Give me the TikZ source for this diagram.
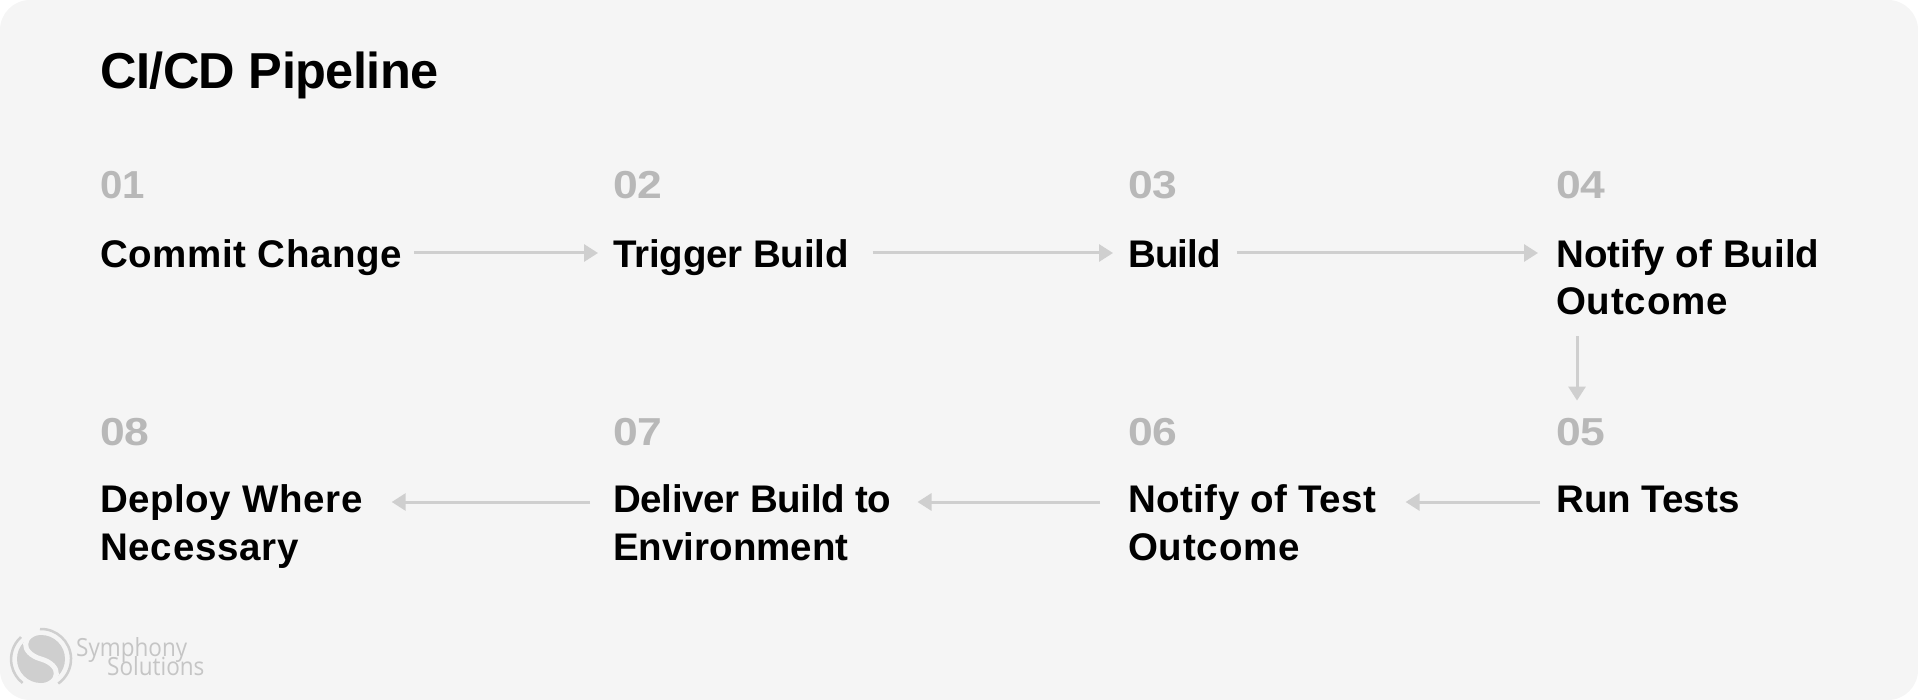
\documentclass[tikz,border=0pt]{standalone}
\usepackage{fontspec}
\setmainfont{Liberation Sans}
\newfontfamily\logofont[FakeStretch=0.9]{Open Sans}
\usetikzlibrary{calc,arrows.meta}
\definecolor{panel}{HTML}{F5F5F5}
\definecolor{numgrey}{HTML}{B8B8B8}
\definecolor{linegrey}{HTML}{CFCFCF}
\newcommand{\lsp}[2]{{\addfontfeature{LetterSpace=#1}#2}}
\tikzset{
  x=1pt,y=-1pt,
  titletext/.style={anchor=base west,inner sep=0pt,font=\fontsize{50.5}{50}\selectfont\bfseries,text=black},
  numtext/.style={anchor=base west,inner sep=0pt,font=\fontsize{39}{47}\selectfont\bfseries,text=numgrey},
  steptext/.style={anchor=north west,inner sep=0pt,align=left,text=black,
    font=\fontsize{38.5}{47.5}\selectfont\bfseries,execute at begin node={\rule{0pt}{30pt}}},
  conn/.style={draw=linegrey,line width=3pt,-{Triangle[length=14pt,width=17pt]}},
  logotext/.style={anchor=base west,inner sep=0pt,text=linegrey!95!black,font=\fontsize{25}{25}\selectfont\logofont},
}
\begin{document}
\begin{tikzpicture}
\useasboundingbox (0,0) rectangle (1918,700);
\fill[panel,rounded corners=30pt] (0,0) rectangle (1918,700);
\node[titletext] (title) at (100,89) {\lsp{-1.1}{CI/CD Pipeline}};
% numbers
\foreach \n/\x/\y/\st in {01/100/199/1.03,02/613/199/1.14,03/1128/199/1.14,04/1556/199/1.14,
                      08/100/445/1.14,07/613/445/1.14,06/1128/445/1.14,05/1556/445/1.14}
  \node[numtext] (n\n) at (\x,\y) {\addfontfeature{FakeStretch=\st}\n};
% steps
\node[steptext] (s1) at (100,237) {\lsp{1.6}{Commit Change}};
\node[steptext] (s2) at (613,237) {\lsp{-0.5}{Trigger Build}};
\node[steptext] (s3) at (1128,237) {\lsp{-2.4}{Build}};
\node[steptext] (s4) at (1556,239) {Notify of Build\\\lsp{2.1}{Outcome}};
\node[steptext] (s5) at (1556,482) {Run Tests};
\node[steptext] (s6) at (1128,484.5) {\lsp{1.2}{Notify of Test}\\\lsp{2.1}{Outcome}};
\node[steptext] (s7) at (613,484.5) {\lsp{-0.85}{Deliver Build to}\\Environment};
\node[steptext] (s8) at (100,484.5) {\lsp{1.45}{Deploy Where}\\\lsp{2}{Necessary}};
% connectors
\draw[conn] ($(s1.north east)+(12,16)$) -- ($(s2.north west)+(-15,16)$);
\draw[conn] ($(s2.north east)+(24,16)$) -- ($(s3.north west)+(-15,16)$);
\draw[conn] ($(s3.north east)+(16,16)$) -- ($(s4.north west)+(-18,14)$);
\draw[conn] ($(s4.south west)+(21,21)$) -- ($(n05.north west)+(21,-17)$);
\draw[conn] ($(s5.north west)+(-16,20)$) -- ($(s6.north east)+(29,17.5)$);
\draw[conn] ($(s6.north west)+(-28,17.5)$) -- ($(s7.north east)+(26,17.5)$);
\draw[conn] ($(s7.north west)+(-23,17.5)$) -- ($(s8.north east)+(29,17.5)$);
% logo
\fill[linegrey] (41,659) circle (24);
\draw[panel,line width=5pt] (44,631) .. controls (20,634) and (20,653) .. (41,659) .. controls (62,665) and (62,684) .. (38,687);
\draw[linegrey,line width=2.5pt] (21,637) arc[start angle=228,end angle=128,radius=30];
\draw[linegrey,line width=2.5pt] (40,629) arc[start angle=-92,end angle=55,radius=30];
\node[logotext] (logo1) at (76,656) {Symphony};
\node[logotext] (logo2) at (107,675) {Solutions};
\end{tikzpicture}
\end{document}
